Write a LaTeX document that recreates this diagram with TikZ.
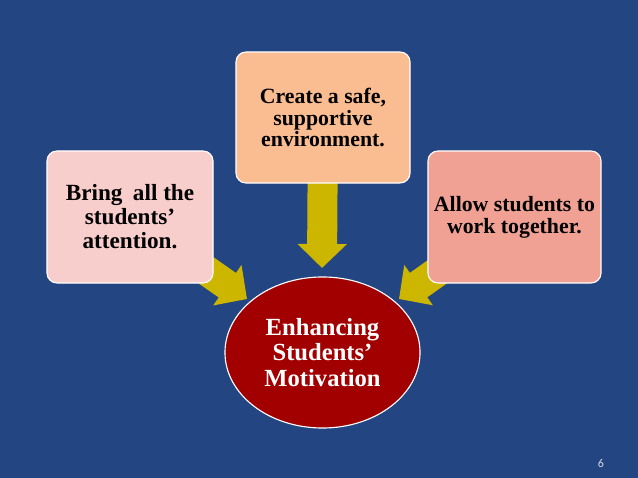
\documentclass[tikz,border=0pt]{standalone}
\usepackage{fontspec}
\setmainfont{Liberation Serif}
\newfontfamily\numfont{Carlito}
\usetikzlibrary{arrows.meta,backgrounds,shapes.geometric}

\definecolor{slideblue}{RGB}{35,69,130}
\definecolor{arrowyellow}{RGB}{204,182,0}
\definecolor{pinkbox}{RGB}{247,206,203}
\definecolor{peachbox}{RGB}{250,188,145}
\definecolor{salmonbox}{RGB}{240,161,148}
\definecolor{darkred}{RGB}{162,0,0}

\tikzset{
  ideabox/.style={draw=white, line width=0.8pt, rounded corners=0.25cm,
    align=center, font=\bfseries\fontsize{15.5}{15.5}\selectfont, text=black},
  blockarrow/.style={draw=arrowyellow, line width=0.75cm,
    -{Triangle[length=0.6cm, width=1.2cm]}}
}

\begin{document}
\begin{tikzpicture}[x=0.025cm, y=-0.025cm]
    \useasboundingbox (0,0) rectangle (638,478);
    % Kaesten
    \node[ideabox, fill=pinkbox, minimum width=4.15cm, minimum height=3.3cm,
          font=\bfseries\fontsize{16.5}{17}\selectfont] (attention) at (130,217)
          {Bring\hspace{0.2em} all the\\students’\\attention.};
    \node[ideabox, fill=peachbox, minimum width=4.35cm, minimum height=3.275cm] (safe) at (323,117.5)
          {Create a safe,\\supportive\\environment.};
    \node[ideabox, fill=salmonbox, minimum width=4.325cm, minimum height=3.3cm] (together) at (514.5,217)
          {Allow students to\\work together.};
    % Ellipse
    \node[ellipse, draw=white, line width=0.8pt, fill=darkred, minimum width=4.875cm,
          minimum height=3.775cm, align=center, text=white,
          font=\bfseries\fontsize{17.5}{18}\selectfont] (motivation) at (322.5,352.5)
          {Enhancing\\Students’\\Motivation};
    % Hintergrund und Pfeile
    \coordinate (tiptop) at (322,268);
    \coordinate (tipleft) at (247,299);
    \coordinate (tipright) at (399,299);
    \begin{scope}[on background layer]
        \fill[slideblue] (0,0) rectangle (638,478);
        \draw[blockarrow] (safe.center) -- (tiptop);
        \draw[blockarrow] (attention.center) -- (tipleft);
        \draw[blockarrow] (together.center) -- (tipright);
    \end{scope}
    % Seitenzahl
    \node[text=white!80!slideblue, font=\numfont\fontsize{8.5}{9}\selectfont] (page) at (601,464) {6};
\end{tikzpicture}
\end{document}
